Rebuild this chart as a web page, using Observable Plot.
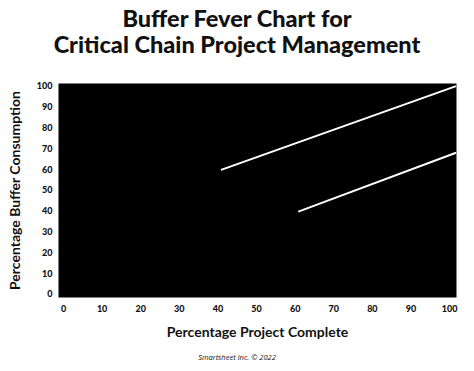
<!DOCTYPE html>
<html>
<head>
<meta charset="utf-8">
<script src="https://cdn.jsdelivr.net/npm/d3@7"></script>
<script src="https://cdn.jsdelivr.net/npm/@observablehq/plot@0.6"></script>
<style>
  body { margin: 0; background: #fff; width: 474px; height: 371px; overflow: hidden; font-family: "Open Sans", sans-serif; }
  #title { height: 62px; box-sizing: border-box; padding-top: 5px; text-align: center; font-family: Lato, sans-serif; font-weight: 900; font-size: 23.5px; line-height: 26px; color: #111; }
  #caption { text-align: center; font-family: "Open Sans", sans-serif; font-style: italic; font-size: 7.5px; color: #111; line-height: 12px; margin-top: 4px; }
  svg { display: block; overflow: visible; }
</style>
</head>
<body>
<div id="title">Buffer Fever Chart for<br>Critical Chain Project Management</div>
<div id="chart"></div>
<div id="caption">Smartsheet Inc. © 2022</div>
<script>
const titleLines = ["Buffer Fever Chart for", "Critical Chain Project Management"];
const xLabel = "Percentage Project Complete";
const yLabel = "Percentage Buffer Consumption";
const xTicks = [0, 10, 20, 30, 40, 50, 60, 70, 80, 90, 100];
const yTicks = [0, 10, 20, 30, 40, 50, 60, 70, 80, 90, 100];
const seriesNames = ["upper", "lower"];
const upperX = [41, 101.5];
const upperY = [60, 100];
const lowerX = [61, 101.5];
const lowerY = [40, 68];

const rows = [
  ...upperX.map((x, i) => ({series: seriesNames[0], x, y: upperY[i]})),
  ...lowerX.map((x, i) => ({series: seriesNames[1], x, y: lowerY[i]}))
];

const chart = Plot.plot({
  width: 474,
  height: 285,
  marginTop: 21,
  marginBottom: 50,
  marginLeft: 58,
  marginRight: 18,
  style: {fontFamily: "Lato, sans-serif", fontSize: "9px", fontWeight: "900", color: "#111", background: "white", overflow: "visible"},
  x: {domain: [-1.3, 101.8]},
  y: {domain: [-1.4, 101.4]},
  marks: [
    Plot.frame({fill: "black", stroke: "none"}),
    Plot.line(rows, {x: "x", y: "y", z: "series", stroke: "white", strokeWidth: 2}),
    Plot.axisX(xTicks, {tickSize: 0, tickPadding: 8, label: null, fontWeight: 900}),
    Plot.axisY(yTicks, {tickSize: 0, tickPadding: 6, label: null, fontWeight: 900}),
    Plot.text([xLabel], {frameAnchor: "bottom", dy: 39, fontSize: 14, fontWeight: 700, fill: "#111"}),
    Plot.text([yLabel], {frameAnchor: "left", textAnchor: "middle", dx: -43, rotate: -90, fontSize: 14, fontWeight: 700, fill: "#111"})
  ]
});
document.getElementById("chart").append(chart);
</script>
</body>
</html>
